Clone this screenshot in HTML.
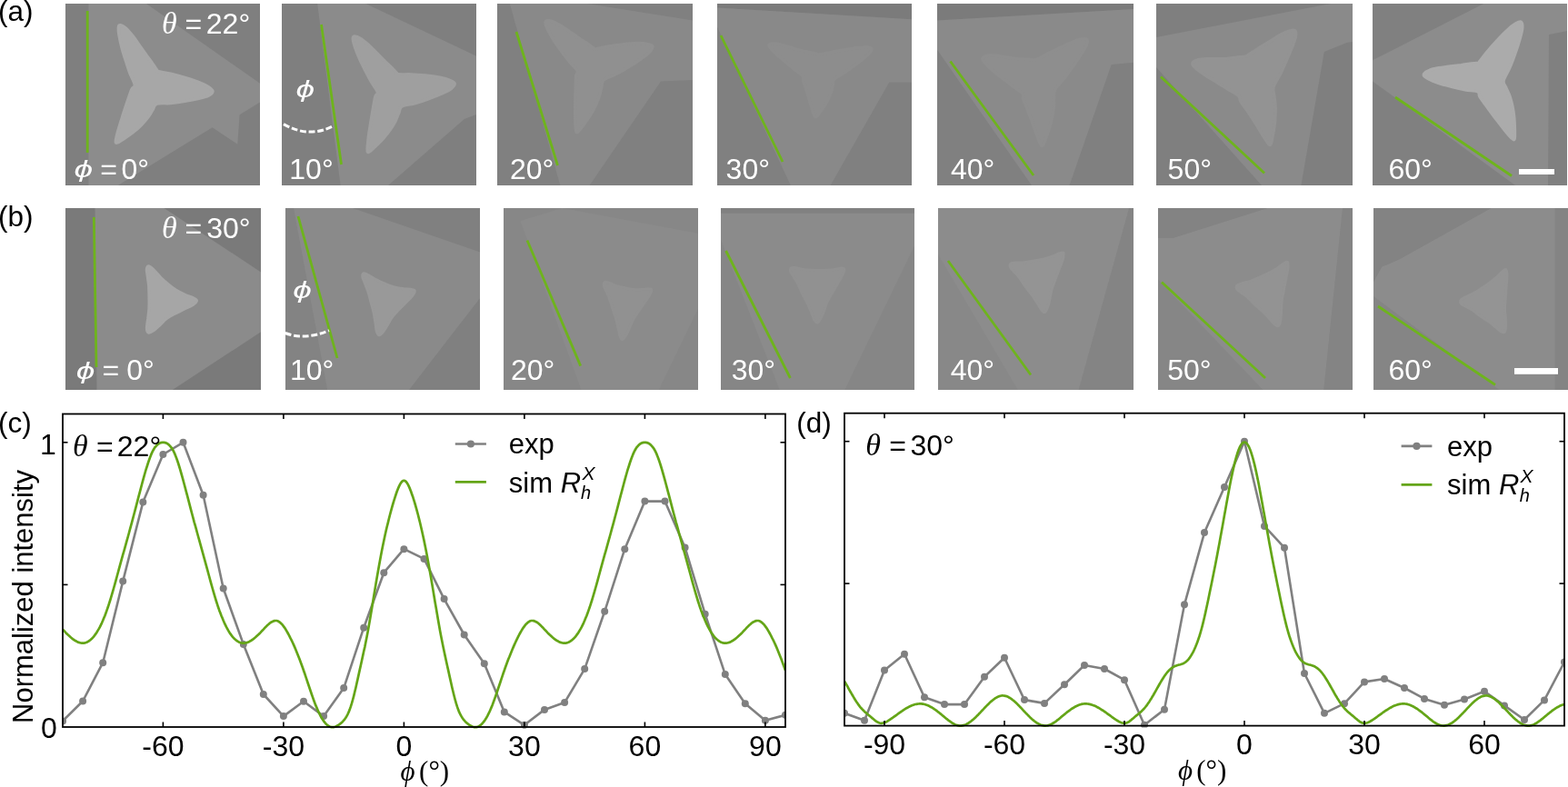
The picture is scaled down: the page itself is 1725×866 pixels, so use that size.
<!DOCTYPE html><html><head><meta charset="utf-8"><title>Figure</title><style>html,body{margin:0;padding:0;background:#fff;}body{width:1725px;height:866px;overflow:hidden;}svg{display:block;}</style></head><body>
<svg width="1725" height="866" viewBox="0 0 1725 866">
<rect width="1725" height="866" fill="#fff"/>
<clipPath id="pa1"><rect x="72" y="4" width="214" height="200"/></clipPath>
<g clip-path="url(#pa1)">
<rect x="72" y="4" width="214" height="200" fill="#7f7f7f"/>
<polygon points="97.4,4.0 160.9,4.0 286.0,91.7 286.0,112.5 263.6,126.3 261.3,158.7 233.6,140.2 129.7,204.0 97.4,204.0" fill="#8c8c8c"/>
<path d="M132.5,27.8 C133.9,28.0 136.4,29.4 138.7,31.4 C140.9,33.4 143.4,36.4 146.0,39.7 C148.6,43.0 151.7,47.6 154.3,51.2 C156.9,54.9 159.4,58.5 161.6,61.6 C163.9,64.7 166.1,67.5 167.8,69.9 C169.5,72.3 170.9,74.6 172.0,76.1 C173.1,77.5 171.9,77.8 174.5,78.6 C177.1,79.4 182.9,80.1 187.7,81.2 C192.5,82.3 198.1,83.8 203.3,85.4 C208.5,87.0 214.6,88.9 218.9,90.6 C223.2,92.3 226.8,94.1 229.3,95.8 C231.8,97.5 234.0,99.0 234.0,100.5 C234.0,102.0 231.8,103.8 229.3,105.1 C226.8,106.4 223.2,107.2 218.9,108.3 C214.6,109.3 208.5,110.5 203.3,111.4 C198.1,112.3 192.8,113.0 187.7,113.5 C182.6,114.0 175.8,113.0 172.5,114.2 C169.2,115.4 169.6,118.2 168.0,120.7 C166.4,123.2 164.9,126.2 162.8,129.0 C160.7,131.8 158.3,134.6 155.5,137.4 C152.7,140.2 149.5,143.1 146.2,145.7 C142.9,148.3 138.8,151.0 135.8,152.9 C132.9,154.8 129.9,156.9 128.5,157.1 C127.1,157.3 127.2,156.6 127.5,154.0 C127.9,151.4 129.2,146.3 130.6,141.5 C132.0,136.7 134.1,130.3 135.8,124.9 C137.5,119.5 139.5,113.8 141.0,109.3 C142.5,104.8 143.9,100.5 145.1,97.9 C146.3,95.3 148.7,96.4 148.3,93.5 C147.9,90.6 144.5,84.6 142.9,80.3 C141.3,76.0 140.1,72.1 138.7,67.8 C137.3,63.5 135.7,58.8 134.5,54.3 C133.3,49.8 132.1,44.8 131.4,40.8 C130.7,36.8 130.2,32.6 130.4,30.4 C130.6,28.2 131.1,27.6 132.5,27.8 Z" fill="#a7a7a7" stroke="#a7a7a7" stroke-width="3.5" stroke-linejoin="round"/>
</g>
<line x1="96.2" y1="12" x2="96.2" y2="168" stroke="#6eb41c" stroke-width="2.8"/>
<text font-size="32" fill="#fff" font-family="'Liberation Sans', Arial, sans-serif"><tspan x="177.9" y="36.8" font-family="'Liberation Serif', 'Times New Roman', serif" font-style="italic" font-size="34">θ</tspan><tspan x="203.5" y="36.8">=</tspan><tspan x="226.8" y="36.8">22°</tspan></text>
<text transform="translate(81.6,195.3) scale(1.4,1)" font-family="'Liberation Sans', Arial, sans-serif" font-style="italic" font-size="26.5" fill="#fff">ϕ</text><text font-size="32" fill="#fff" font-family="'Liberation Sans', Arial, sans-serif"><tspan x="110.2" y="196.5">=</tspan><tspan x="133.5" y="196.5">0°</tspan></text>
<clipPath id="pa2"><rect x="310" y="4" width="214" height="200"/></clipPath>
<g clip-path="url(#pa2)">
<rect x="310" y="4" width="214" height="200" fill="#7f7f7f"/>
<polygon points="349.2,4.0 402.3,4.0 524.0,61.7 524.0,126.0 510.8,131.0 427.0,204.0 374.6,204.0" fill="#8b8b8b"/>
<path d="M390.0,40.0 C391.4,39.9 394.1,40.8 396.6,42.4 C399.1,43.9 402.0,46.4 405.0,49.1 C408.0,51.9 411.8,55.7 414.8,58.8 C417.9,61.9 420.9,65.0 423.5,67.6 C426.2,70.2 428.8,72.5 430.9,74.6 C432.9,76.6 434.6,78.6 435.9,79.9 C437.2,81.1 436.0,81.5 438.7,81.8 C441.4,82.2 447.2,81.7 452.0,81.9 C456.9,82.1 462.6,82.5 467.9,83.1 C473.2,83.6 479.4,84.4 483.9,85.2 C488.4,86.1 492.2,87.2 494.9,88.4 C497.6,89.5 500.0,90.6 500.2,92.1 C500.4,93.6 498.6,95.7 496.3,97.5 C494.0,99.2 490.7,100.7 486.6,102.6 C482.5,104.4 476.8,106.7 471.8,108.5 C466.9,110.4 461.8,112.1 456.9,113.5 C451.9,114.9 445.2,115.3 442.1,117.1 C439.1,118.8 439.9,121.5 438.7,124.3 C437.5,127.0 436.5,130.2 434.9,133.4 C433.3,136.5 431.3,139.7 429.0,143.0 C426.7,146.2 424.0,149.7 421.2,152.8 C418.4,156.0 414.7,159.4 412.1,161.8 C409.5,164.2 406.9,166.9 405.6,167.3 C404.3,167.7 404.2,167.1 404.2,164.5 C404.1,161.8 404.7,156.6 405.3,151.6 C405.9,146.6 407.0,140.0 407.9,134.4 C408.8,128.8 409.8,122.9 410.6,118.2 C411.4,113.5 412.1,109.0 412.9,106.2 C413.7,103.4 416.2,104.1 415.4,101.3 C414.6,98.5 410.3,93.3 408.1,89.4 C405.9,85.5 404.1,82.0 402.1,78.0 C400.1,74.0 397.8,69.7 396.0,65.6 C394.1,61.4 392.2,56.7 390.9,52.9 C389.6,49.2 388.5,45.1 388.3,42.9 C388.2,40.8 388.6,40.1 390.0,40.0 Z" fill="#9f9f9f" stroke="#9f9f9f" stroke-width="3.5" stroke-linejoin="round"/>
</g>
<line x1="353.5" y1="27" x2="375.5" y2="181" stroke="#6eb41c" stroke-width="2.8"/>
<text x="318.3" y="196.8" font-family="'Liberation Sans', Arial, sans-serif" font-size="32" fill="#fff">10°</text>
<clipPath id="pa3"><rect x="547" y="4" width="215" height="200"/></clipPath>
<g clip-path="url(#pa3)">
<rect x="547" y="4" width="215" height="200" fill="#808080"/>
<polygon points="646.0,4.0 762.0,4.0 762.0,22.5" fill="#808080"/>
<polygon points="560.9,4.0 646.0,4.0 762.0,22.5 762.0,88.0 727.0,89.5 648.6,204.0 616.3,204.0" fill="#898989"/>
<path d="M601.4,23.0 C602.7,22.6 605.6,23.0 608.3,23.9 C611.0,24.9 614.1,26.7 617.5,28.8 C620.9,30.9 625.2,33.9 628.7,36.3 C632.2,38.7 635.5,41.1 638.6,43.1 C641.6,45.1 644.5,46.9 646.8,48.4 C649.1,50.0 651.1,51.7 652.5,52.6 C654.0,53.5 652.9,54.2 655.6,53.9 C658.3,53.7 663.9,52.0 668.8,51.1 C673.6,50.3 679.3,49.5 684.6,48.9 C689.9,48.3 696.2,47.7 700.8,47.6 C705.3,47.5 709.2,47.8 712.0,48.4 C714.9,48.9 717.3,49.5 717.8,50.9 C718.3,52.3 716.7,54.8 714.7,57.1 C712.8,59.3 709.7,61.5 705.9,64.2 C702.2,66.9 696.8,70.4 692.2,73.2 C687.6,76.1 682.9,78.9 678.2,81.3 C673.5,83.8 666.9,85.6 664.1,88.0 C661.4,90.4 662.6,92.9 661.8,95.9 C661.0,98.8 660.5,102.2 659.4,105.7 C658.2,109.1 656.7,112.7 655.0,116.4 C653.2,120.1 651.0,124.1 648.7,127.8 C646.3,131.6 643.2,135.7 641.0,138.7 C638.8,141.6 636.6,144.8 635.4,145.5 C634.2,146.2 634.0,145.6 633.6,143.0 C633.1,140.4 632.9,135.2 632.8,130.1 C632.7,125.0 632.8,118.2 632.8,112.5 C632.9,106.8 633.0,100.7 633.2,95.9 C633.3,91.0 633.3,86.5 633.7,83.6 C634.1,80.6 636.6,80.8 635.4,78.2 C634.2,75.6 629.2,71.4 626.5,68.0 C623.7,64.6 621.5,61.5 618.9,58.0 C616.3,54.5 613.5,50.7 611.0,47.0 C608.6,43.3 606.0,39.0 604.2,35.6 C602.4,32.1 600.7,28.4 600.2,26.3 C599.7,24.2 600.1,23.4 601.4,23.0 Z" fill="#909090" stroke="#909090" stroke-width="3.5" stroke-linejoin="round"/>
</g>
<line x1="568" y1="35" x2="613.5" y2="182" stroke="#6eb41c" stroke-width="2.8"/>
<text x="561.0" y="196.8" font-family="'Liberation Sans', Arial, sans-serif" font-size="32" fill="#fff">20°</text>
<clipPath id="pa4"><rect x="789" y="4" width="214" height="200"/></clipPath>
<g clip-path="url(#pa4)">
<rect x="789" y="4" width="214" height="200" fill="#808080"/>
<polygon points="789.0,4.0 1003.0,4.0 1003.0,21.3 789.0,8.6" fill="#7b7b7b"/>
<polygon points="789.0,8.6 1003.0,21.3 1003.0,90.6 978.3,90.6 913.6,204.0 869.8,204.0 789.0,29.4" fill="#898989"/>
<path d="M847.0,48.5 C848.1,48.0 850.7,47.9 853.1,48.1 C855.6,48.3 858.7,49.1 861.9,49.9 C865.2,50.7 869.4,52.1 872.9,53.1 C876.3,54.1 879.7,55.1 882.9,55.9 C886.0,56.6 889.1,57.2 891.8,57.8 C894.4,58.4 896.9,59.1 898.6,59.4 C900.4,59.8 899.6,60.3 902.4,59.9 C905.2,59.5 910.9,58.1 915.4,57.2 C919.9,56.3 924.9,55.5 929.6,54.7 C934.2,53.9 939.5,53.0 943.5,52.5 C947.5,52.1 950.8,51.9 953.4,52.0 C955.9,52.2 958.1,52.3 958.8,53.2 C959.4,54.2 958.5,56.0 957.2,57.8 C955.9,59.5 953.7,61.3 950.9,63.6 C948.2,65.9 944.3,68.9 940.8,71.6 C937.3,74.2 933.8,76.8 930.0,79.4 C926.2,82.0 920.3,84.8 918.0,87.1 C915.7,89.4 916.8,90.9 916.3,93.1 C915.7,95.3 915.6,97.6 914.8,100.0 C914.1,102.5 913.1,105.0 911.9,107.6 C910.7,110.2 909.2,113.1 907.6,115.7 C905.9,118.4 903.7,121.4 902.1,123.6 C900.5,125.7 899.0,127.9 898.0,128.5 C897.0,129.1 896.7,128.7 895.9,127.2 C895.1,125.6 894.0,122.3 893.0,119.1 C892.0,115.9 890.9,111.6 889.8,107.9 C888.7,104.2 887.5,100.3 886.4,97.1 C885.4,93.8 884.0,90.5 883.5,88.3 C883.0,86.2 885.1,86.0 883.5,84.0 C881.9,82.0 876.7,78.7 873.9,76.3 C871.0,74.0 868.8,72.0 866.2,69.9 C863.6,67.7 860.7,65.5 858.2,63.3 C855.6,61.1 852.9,58.6 850.9,56.5 C848.9,54.5 847.0,52.2 846.3,50.9 C845.7,49.5 845.9,49.0 847.0,48.5 Z" fill="#8d8d8d" stroke="#8d8d8d" stroke-width="3.5" stroke-linejoin="round"/>
</g>
<line x1="793" y1="39" x2="861" y2="178" stroke="#6eb41c" stroke-width="2.8"/>
<text x="798.6" y="196.8" font-family="'Liberation Sans', Arial, sans-serif" font-size="32" fill="#fff">30°</text>
<clipPath id="pa5"><rect x="1031" y="4" width="216" height="200"/></clipPath>
<g clip-path="url(#pa5)">
<rect x="1031" y="4" width="216" height="200" fill="#808080"/>
<polygon points="1031.0,4.0 1247.0,4.0 1247.0,10.0 1031.0,22.5" fill="#7b7b7b"/>
<polygon points="1031.0,22.5 1247.0,10.0 1247.0,68.7 1222.7,71.0 1176.5,204.0 1135.0,204.0 1031.0,54.8" fill="#8a8a8a"/>
<path d="M1081.8,63.0 C1082.9,62.1 1085.4,61.3 1088.0,61.0 C1090.5,60.8 1093.7,61.1 1097.2,61.4 C1100.7,61.8 1105.1,62.7 1108.8,63.2 C1112.5,63.7 1116.1,64.3 1119.4,64.7 C1122.7,65.0 1126.0,65.0 1128.7,65.2 C1131.5,65.4 1134.1,65.8 1136.0,65.9 C1137.8,66.0 1137.1,66.8 1139.9,65.7 C1142.6,64.5 1148.2,61.2 1152.6,59.0 C1157.0,56.7 1161.9,54.4 1166.5,52.3 C1171.1,50.1 1176.3,47.6 1180.3,46.1 C1184.2,44.6 1187.6,43.5 1190.2,43.1 C1192.8,42.7 1195.0,42.3 1195.9,43.5 C1196.7,44.6 1196.1,47.3 1195.1,50.0 C1194.0,52.6 1192.1,55.6 1189.7,59.4 C1187.3,63.2 1183.9,68.2 1180.8,72.6 C1177.7,77.0 1174.6,81.4 1171.2,85.8 C1167.8,90.2 1162.3,95.4 1160.4,99.0 C1158.4,102.6 1159.8,104.5 1159.6,107.6 C1159.5,110.6 1159.7,113.9 1159.4,117.4 C1159.0,120.8 1158.5,124.5 1157.7,128.3 C1156.9,132.2 1155.9,136.4 1154.7,140.4 C1153.5,144.4 1151.8,149.0 1150.5,152.3 C1149.3,155.6 1148.1,159.0 1147.2,160.0 C1146.3,161.1 1145.9,160.6 1144.8,158.7 C1143.7,156.7 1142.1,152.5 1140.5,148.3 C1138.9,144.2 1137.1,138.6 1135.3,133.9 C1133.6,129.1 1131.7,124.1 1130.1,119.9 C1128.4,115.7 1126.5,111.6 1125.6,108.7 C1124.7,105.9 1126.8,105.2 1124.8,102.8 C1122.9,100.5 1117.1,97.1 1113.8,94.6 C1110.5,92.1 1107.9,90.0 1104.9,87.6 C1101.9,85.3 1098.6,83.0 1095.6,80.6 C1092.7,78.1 1089.5,75.4 1087.1,73.0 C1084.8,70.7 1082.4,68.0 1081.5,66.4 C1080.6,64.7 1080.7,63.9 1081.8,63.0 Z" fill="#8e8e8e" stroke="#8e8e8e" stroke-width="3.5" stroke-linejoin="round"/>
</g>
<line x1="1045.5" y1="67.5" x2="1137" y2="193" stroke="#6eb41c" stroke-width="2.8"/>
<text x="1045.9" y="196.8" font-family="'Liberation Sans', Arial, sans-serif" font-size="32" fill="#fff">40°</text>
<clipPath id="pa6"><rect x="1272" y="4" width="216" height="200"/></clipPath>
<g clip-path="url(#pa6)">
<rect x="1272" y="4" width="216" height="200" fill="#7f7f7f"/>
<polygon points="1272.0,41.0 1463.7,4.0 1488.0,4.0 1488.0,46.0 1482.2,46.7 1456.8,57.1 1431.4,204.0 1388.0,204.0 1272.0,74.0" fill="#8a8a8a"/>
<path d="M1312.4,68.7 C1313.3,67.6 1315.6,66.4 1318.1,65.8 C1320.5,65.2 1323.7,65.0 1327.2,64.8 C1330.7,64.7 1335.2,64.9 1339.0,64.8 C1342.7,64.7 1346.4,64.7 1349.8,64.5 C1353.2,64.2 1356.6,63.6 1359.5,63.3 C1362.4,62.9 1365.3,62.8 1367.3,62.5 C1369.3,62.2 1368.8,63.1 1371.6,61.6 C1374.4,60.0 1379.8,56.1 1384.1,53.4 C1388.3,50.7 1392.8,48.0 1397.1,45.4 C1401.4,42.8 1406.0,39.8 1409.7,37.9 C1413.3,36.0 1416.5,34.7 1419.0,34.0 C1421.5,33.3 1423.7,32.7 1424.7,33.8 C1425.8,34.8 1425.8,37.6 1425.3,40.4 C1424.8,43.2 1423.5,46.4 1422.0,50.5 C1420.4,54.5 1418.1,60.0 1416.0,64.9 C1413.9,69.8 1411.8,74.7 1409.4,79.8 C1406.9,84.9 1402.4,91.4 1401.1,95.6 C1399.9,99.8 1401.4,101.6 1401.7,104.8 C1402.0,108.0 1402.7,111.3 1402.9,114.9 C1403.2,118.4 1403.2,122.2 1403.0,126.1 C1402.9,130.1 1402.6,134.4 1402.0,138.5 C1401.5,142.7 1400.5,147.5 1399.9,150.8 C1399.2,154.2 1398.7,157.7 1397.9,158.8 C1397.1,160.0 1396.8,159.6 1395.3,157.9 C1393.8,156.1 1391.3,152.2 1388.9,148.4 C1386.5,144.6 1383.6,139.5 1380.8,135.1 C1378.1,130.7 1375.1,126.1 1372.4,122.2 C1369.8,118.3 1366.6,114.3 1364.9,111.5 C1363.3,108.7 1365.1,107.8 1362.5,105.4 C1359.9,103.0 1353.3,99.7 1349.4,97.3 C1345.6,94.9 1342.8,93.0 1339.4,90.9 C1336.0,88.8 1332.4,86.8 1329.0,84.7 C1325.7,82.6 1322.1,80.2 1319.4,78.1 C1316.7,76.1 1313.9,73.7 1312.7,72.1 C1311.6,70.6 1311.5,69.8 1312.4,68.7 Z" fill="#939393" stroke="#939393" stroke-width="3.5" stroke-linejoin="round"/>
</g>
<line x1="1277" y1="84.5" x2="1391" y2="190.5" stroke="#6eb41c" stroke-width="2.8"/>
<text x="1284.6" y="196.8" font-family="'Liberation Sans', Arial, sans-serif" font-size="32" fill="#fff">50°</text>
<clipPath id="pa7"><rect x="1510" y="4" width="214" height="200"/></clipPath>
<g clip-path="url(#pa7)">
<rect x="1510" y="4" width="214" height="200" fill="#808080"/>
<polygon points="1510.0,66.3 1632.3,4.0 1724.0,4.0 1724.0,34.0 1704.0,38.0 1703.0,204.0 1667.0,204.0 1510.0,89.4" fill="#8c8c8c"/>
<path d="M1566.7,81.2 C1567.5,80.0 1569.9,78.3 1572.6,77.3 C1575.2,76.2 1578.8,75.5 1582.6,74.8 C1586.5,74.1 1591.6,73.6 1595.7,73.0 C1599.9,72.5 1603.9,72.1 1607.4,71.7 C1611.0,71.2 1614.2,70.6 1617.0,70.2 C1619.7,69.8 1622.2,69.8 1623.9,69.5 C1625.6,69.2 1625.1,70.5 1627.1,68.5 C1629.0,66.5 1632.4,61.4 1635.6,57.5 C1638.8,53.6 1642.8,49.1 1646.5,45.1 C1650.3,41.0 1654.8,36.3 1658.2,33.2 C1661.7,30.0 1664.9,27.6 1667.4,26.1 C1669.9,24.6 1672.2,23.4 1673.4,24.2 C1674.6,25.0 1674.9,28.0 1674.7,31.0 C1674.5,34.1 1673.4,37.8 1672.1,42.4 C1670.8,47.1 1668.8,53.4 1666.9,58.7 C1665.0,64.0 1663.1,69.4 1660.9,74.4 C1658.8,79.5 1654.7,85.3 1654.0,89.0 C1653.4,92.7 1655.8,93.9 1656.9,96.7 C1658.1,99.5 1659.7,102.5 1660.9,105.9 C1662.0,109.3 1663.1,113.1 1663.9,117.2 C1664.7,121.2 1665.4,125.8 1665.8,130.2 C1666.2,134.7 1666.3,140.0 1666.4,143.8 C1666.4,147.5 1666.6,151.4 1666.1,152.8 C1665.6,154.2 1665.0,153.8 1663.2,152.1 C1661.3,150.4 1658.0,146.5 1654.9,142.6 C1651.8,138.8 1647.8,133.5 1644.4,129.1 C1641.1,124.6 1637.5,119.8 1634.8,116.0 C1632.0,112.2 1629.3,108.7 1627.8,106.2 C1626.4,103.7 1628.4,102.1 1625.9,100.9 C1623.5,99.7 1617.1,99.7 1612.9,99.0 C1608.8,98.3 1605.2,97.3 1601.1,96.4 C1597.0,95.4 1592.6,94.5 1588.5,93.2 C1584.3,92.0 1579.8,90.5 1576.4,89.1 C1572.9,87.6 1569.3,85.8 1567.7,84.5 C1566.1,83.2 1565.9,82.4 1566.7,81.2 Z" fill="#ababab" stroke="#ababab" stroke-width="3.5" stroke-linejoin="round"/>
</g>
<line x1="1535" y1="107" x2="1663" y2="193.5" stroke="#6eb41c" stroke-width="2.8"/>
<text x="1527.5" y="196.8" font-family="'Liberation Sans', Arial, sans-serif" font-size="32" fill="#fff">60°</text>
<rect x="1671" y="186" width="39" height="6" fill="#fff"/>
<clipPath id="pb1"><rect x="72" y="229" width="215" height="200"/></clipPath>
<g clip-path="url(#pb1)">
<rect x="72" y="229" width="215" height="200" fill="#7a7a7a"/>
<polygon points="104.5,229.0 180.5,229.0 287.0,299.4 287.0,365.3 189.8,429.0 106.5,429.0" fill="#8b8b8b"/>
<path d="M163.7,292.7 C164.9,292.7 166.2,294.0 168.4,296.1 C170.6,298.2 174.1,302.5 176.8,305.2 C179.6,308.0 182.3,310.3 185.1,312.6 C187.9,314.9 190.4,317.0 193.6,319.0 C196.8,320.9 201.2,323.1 204.3,324.5 C207.4,325.9 210.3,326.5 212.3,327.5 C214.3,328.6 216.5,329.5 216.5,330.8 C216.5,332.1 214.5,333.9 212.3,335.4 C210.0,336.9 206.7,338.3 203.2,340.0 C199.7,341.8 194.5,344.1 191.0,346.0 C187.6,347.8 185.2,349.3 182.7,351.1 C180.3,353.0 178.6,355.3 176.4,357.3 C174.1,359.4 171.6,362.0 169.4,363.4 C167.1,364.9 164.4,366.5 163.1,366.1 C161.8,365.8 161.5,363.9 161.4,361.3 C161.3,358.8 162.1,354.6 162.6,350.9 C163.0,347.2 163.7,343.2 163.9,339.0 C164.1,334.7 164.0,329.6 163.9,325.4 C163.8,321.3 163.8,317.6 163.5,313.9 C163.2,310.2 162.4,306.4 162.1,303.4 C161.7,300.4 161.1,297.6 161.3,295.9 C161.6,294.1 162.5,292.7 163.7,292.7 Z" fill="#a6a6a6" stroke="#a6a6a6" stroke-width="3.0" stroke-linejoin="round"/>
</g>
<line x1="103.3" y1="239" x2="106" y2="404" stroke="#6eb41c" stroke-width="2.8"/>
<text font-size="32" fill="#fff" font-family="'Liberation Sans', Arial, sans-serif"><tspan x="177.9" y="261.7" font-family="'Liberation Serif', 'Times New Roman', serif" font-style="italic" font-size="34">θ</tspan><tspan x="203.5" y="261.7">=</tspan><tspan x="227.2" y="261.7">30°</tspan></text>
<text transform="translate(83.7,416.8) scale(1.4,1)" font-family="'Liberation Sans', Arial, sans-serif" font-style="italic" font-size="26.5" fill="#fff">ϕ</text><text font-size="32" fill="#fff" font-family="'Liberation Sans', Arial, sans-serif"><tspan x="112.4" y="418.1">=</tspan><tspan x="139.2" y="418.1">0°</tspan></text>
<clipPath id="pb2"><rect x="314" y="229" width="214" height="200"/></clipPath>
<g clip-path="url(#pb2)">
<rect x="314" y="229" width="214" height="200" fill="#838383"/>
<polygon points="387.9,229.0 528.0,229.0 528.0,277.5" fill="#808080"/>
<polygon points="323.0,229.0 387.9,229.0 528.0,277.5 528.0,328.3 450.2,429.0 360.2,429.0" fill="#8a8a8a"/>
<polygon points="528.0,328.3 528.0,429.0 450.2,429.0" fill="#808080"/>
<path d="M400.1,300.8 C401.1,300.5 402.6,301.2 405.0,302.5 C407.4,303.7 411.5,306.5 414.7,308.1 C417.8,309.8 420.8,311.0 423.9,312.3 C427.0,313.6 429.8,314.7 433.2,315.7 C436.6,316.6 441.0,317.4 444.1,317.8 C447.2,318.2 449.8,317.9 451.8,318.3 C453.8,318.7 456.0,318.9 456.3,320.1 C456.6,321.3 455.2,323.5 453.6,325.6 C452.1,327.7 449.5,329.9 446.8,332.6 C444.1,335.4 440.1,339.2 437.5,342.0 C434.9,344.8 432.9,346.9 431.1,349.4 C429.4,351.9 428.3,354.4 426.8,356.9 C425.3,359.4 423.7,362.5 422.0,364.5 C420.4,366.5 418.4,368.7 417.1,368.8 C415.8,368.8 415.1,367.1 414.4,364.9 C413.7,362.6 413.4,358.6 412.9,355.1 C412.3,351.6 411.9,347.8 411.0,343.8 C410.1,339.7 408.7,334.9 407.6,331.0 C406.6,327.1 405.8,323.6 404.7,320.3 C403.6,317.0 402.1,313.7 401.1,311.0 C400.1,308.4 398.9,306.1 398.7,304.4 C398.6,302.7 399.1,301.1 400.1,300.8 Z" fill="#999999" stroke="#999999" stroke-width="3.0" stroke-linejoin="round"/>
</g>
<line x1="328" y1="238" x2="371" y2="394" stroke="#6eb41c" stroke-width="2.8"/>
<text x="319.0" y="418.3" font-family="'Liberation Sans', Arial, sans-serif" font-size="32" fill="#fff">10°</text>
<clipPath id="pb3"><rect x="554" y="229" width="214" height="200"/></clipPath>
<g clip-path="url(#pb3)">
<rect x="554" y="229" width="214" height="200" fill="#878787"/>
<polygon points="572.5,242.9 618.6,229.0 768.0,256.7 768.0,339.8 724.8,429.0 639.4,429.0" fill="#8b8b8b"/>
<path d="M665.4,310.5 C666.3,310.0 667.6,310.4 669.8,311.1 C672.0,311.8 675.8,313.7 678.7,314.7 C681.6,315.6 684.4,316.2 687.3,316.8 C690.2,317.4 692.9,318.1 696.0,318.4 C699.1,318.7 703.1,318.7 705.9,318.6 C708.7,318.6 710.9,317.8 712.7,317.8 C714.5,317.9 716.3,317.6 716.7,318.8 C717.0,319.9 716.0,322.3 714.8,324.6 C713.5,327.0 711.5,329.6 709.3,332.8 C707.1,336.0 703.7,340.6 701.6,343.9 C699.4,347.2 697.7,349.6 696.2,352.4 C694.8,355.1 694.0,357.7 692.8,360.4 C691.6,363.1 690.3,366.4 688.9,368.6 C687.6,370.8 685.9,373.3 684.8,373.6 C683.7,373.9 683.0,372.4 682.2,370.4 C681.4,368.3 680.9,364.6 680.1,361.3 C679.3,358.0 678.7,354.5 677.6,350.7 C676.5,346.9 674.7,342.3 673.6,338.6 C672.4,334.9 671.5,331.6 670.4,328.5 C669.3,325.5 667.8,322.6 666.8,320.2 C665.8,317.8 664.6,315.9 664.4,314.2 C664.1,312.6 664.5,311.0 665.4,310.5 Z" fill="#919191" stroke="#919191" stroke-width="3.0" stroke-linejoin="round"/>
</g>
<line x1="580" y1="264.5" x2="638.7" y2="402.6" stroke="#6eb41c" stroke-width="2.8"/>
<text x="561.9" y="418.3" font-family="'Liberation Sans', Arial, sans-serif" font-size="32" fill="#fff">20°</text>
<clipPath id="pb4"><rect x="793" y="229" width="213" height="200"/></clipPath>
<g clip-path="url(#pb4)">
<rect x="793" y="229" width="213" height="200" fill="#868686"/>
<polygon points="793.0,229.0 1006.0,229.0 1006.0,234.8 793.0,234.8" fill="#818181"/>
<polygon points="793.0,234.8 1006.0,234.8 1006.0,270.6 929.3,429.0 857.7,429.0 793.0,263.7" fill="#8b8b8b"/>
<path d="M870.4,294.8 C871.3,294.1 872.8,294.4 875.3,294.7 C877.8,295.0 882.1,296.2 885.4,296.7 C888.8,297.1 892.0,297.1 895.4,297.3 C898.8,297.4 902.2,297.6 905.7,297.5 C909.3,297.5 913.7,297.2 916.8,296.8 C919.9,296.4 922.1,295.4 924.1,295.2 C926.1,295.0 928.1,294.6 928.6,295.7 C929.1,296.7 928.3,299.2 927.3,301.7 C926.2,304.2 924.3,307.1 922.3,310.7 C920.3,314.2 917.2,319.5 915.1,323.2 C913.0,326.9 911.3,329.7 909.9,332.6 C908.5,335.6 907.9,338.3 906.8,341.1 C905.7,343.9 904.6,347.3 903.4,349.6 C902.1,351.9 900.5,354.5 899.3,355.0 C898.1,355.4 897.1,354.1 896.0,352.3 C894.9,350.4 893.9,346.9 892.6,343.8 C891.3,340.8 890.0,337.5 888.2,333.9 C886.5,330.2 883.8,325.6 882.0,321.9 C880.3,318.3 879.1,314.9 877.6,312.0 C876.0,309.0 874.2,306.4 872.9,304.2 C871.5,302.0 870.1,300.2 869.6,298.7 C869.2,297.1 869.5,295.5 870.4,294.8 Z" fill="#919191" stroke="#919191" stroke-width="3.0" stroke-linejoin="round"/>
</g>
<line x1="798.6" y1="276" x2="869.4" y2="416" stroke="#6eb41c" stroke-width="2.8"/>
<text x="804.7" y="418.3" font-family="'Liberation Sans', Arial, sans-serif" font-size="32" fill="#fff">30°</text>
<clipPath id="pb5"><rect x="1032" y="229" width="215" height="200"/></clipPath>
<g clip-path="url(#pb5)">
<rect x="1032" y="229" width="215" height="200" fill="#888888"/>
<polygon points="1032.0,229.0 1242.2,229.0 1186.7,429.0 1119.8,429.0 1032.0,279.8" fill="#8c8c8c"/>
<polygon points="1242.2,229.0 1247.0,229.0 1247.0,429.0 1186.7,429.0" fill="#848484"/>
<path d="M1111.7,290.2 C1112.5,289.3 1114.0,289.3 1116.6,289.0 C1119.1,288.8 1123.6,289.1 1127.0,288.7 C1130.4,288.4 1133.6,287.7 1137.0,287.1 C1140.4,286.6 1143.8,286.0 1147.3,285.1 C1150.9,284.3 1155.3,283.0 1158.3,281.9 C1161.3,280.9 1163.4,279.4 1165.3,278.8 C1167.2,278.2 1169.2,277.3 1169.9,278.2 C1170.6,279.2 1170.1,281.9 1169.5,284.6 C1168.8,287.3 1167.4,290.5 1165.9,294.5 C1164.4,298.5 1162.1,304.4 1160.6,308.5 C1159.2,312.6 1157.9,315.7 1156.9,318.9 C1156.0,322.2 1155.8,324.9 1155.1,328.0 C1154.5,331.0 1153.9,334.6 1153.0,337.1 C1152.1,339.7 1151.0,342.7 1149.8,343.4 C1148.7,344.1 1147.5,343.0 1146.1,341.4 C1144.7,339.8 1143.1,336.6 1141.4,333.8 C1139.6,331.1 1137.8,328.1 1135.5,324.9 C1133.2,321.7 1129.8,317.7 1127.5,314.5 C1125.2,311.3 1123.5,308.2 1121.5,305.6 C1119.5,303.0 1117.3,300.8 1115.6,298.9 C1113.9,297.0 1112.2,295.6 1111.5,294.2 C1110.9,292.7 1110.9,291.1 1111.7,290.2 Z" fill="#949494" stroke="#949494" stroke-width="3.0" stroke-linejoin="round"/>
</g>
<line x1="1043" y1="287" x2="1134" y2="412.5" stroke="#6eb41c" stroke-width="2.8"/>
<text x="1045.7" y="418.3" font-family="'Liberation Sans', Arial, sans-serif" font-size="32" fill="#fff">40°</text>
<clipPath id="pb6"><rect x="1274" y="229" width="214" height="200"/></clipPath>
<g clip-path="url(#pb6)">
<rect x="1274" y="229" width="214" height="200" fill="#868686"/>
<polygon points="1274.0,262.0 1290.0,262.0 1394.0,229.0 1477.1,229.0 1456.4,429.0 1389.4,429.0 1274.0,307.5" fill="#8c8c8c"/>
<polygon points="1274.0,229.0 1394.0,229.0 1290.0,262.0 1274.0,262.0" fill="#838383"/>
<polygon points="1477.1,229.0 1488.0,229.0 1488.0,429.0 1456.4,429.0" fill="#848484"/>
<path d="M1360.6,314.4 C1361.3,313.3 1362.8,312.9 1365.2,312.1 C1367.7,311.2 1372.2,310.4 1375.5,309.3 C1378.9,308.1 1381.9,306.7 1385.2,305.3 C1388.5,303.8 1391.8,302.5 1395.1,300.8 C1398.5,299.0 1402.7,296.7 1405.5,294.9 C1408.3,293.1 1410.1,291.1 1412.0,290.1 C1413.8,289.0 1415.5,287.6 1416.4,288.4 C1417.2,289.2 1417.2,292.0 1417.0,294.9 C1416.7,297.7 1415.8,301.3 1415.0,305.6 C1414.2,309.9 1412.8,316.4 1412.0,320.9 C1411.2,325.3 1410.4,328.8 1410.0,332.2 C1409.6,335.7 1409.8,338.5 1409.6,341.7 C1409.4,344.9 1409.4,348.6 1408.9,351.4 C1408.5,354.1 1407.8,357.4 1406.7,358.4 C1405.7,359.4 1404.4,358.6 1402.7,357.3 C1401.1,356.1 1399.0,353.2 1396.9,350.9 C1394.7,348.5 1392.5,346.0 1389.7,343.4 C1386.9,340.7 1382.9,337.5 1380.1,334.9 C1377.3,332.2 1375.1,329.6 1372.7,327.4 C1370.4,325.3 1367.8,323.7 1365.8,322.2 C1363.9,320.7 1361.9,319.7 1361.1,318.4 C1360.2,317.1 1359.9,315.5 1360.6,314.4 Z" fill="#939393" stroke="#939393" stroke-width="3.0" stroke-linejoin="round"/>
</g>
<line x1="1278" y1="310.5" x2="1392" y2="416" stroke="#6eb41c" stroke-width="2.8"/>
<text x="1284.2" y="418.3" font-family="'Liberation Sans', Arial, sans-serif" font-size="32" fill="#fff">50°</text>
<clipPath id="pb7"><rect x="1511" y="229" width="214" height="200"/></clipPath>
<g clip-path="url(#pb7)">
<rect x="1511" y="229" width="214" height="200" fill="#858585"/>
<polygon points="1511.0,310.0 1520.2,293.6 1540.0,285.0 1640.3,229.0 1710.7,229.0 1710.7,429.0 1649.5,429.0 1511.0,326.0" fill="#8c8c8c"/>
<polygon points="1511.0,229.0 1640.3,229.0 1540.0,285.0 1520.2,293.6 1511.0,310.0" fill="#838383"/>
<polygon points="1710.7,229.0 1725.0,229.0 1725.0,429.0 1710.7,429.0" fill="#848484"/>
<path d="M1606.8,330.6 C1607.3,329.5 1608.7,328.8 1610.9,327.6 C1613.2,326.4 1617.3,324.8 1620.4,323.2 C1623.4,321.6 1626.1,319.7 1629.1,317.8 C1632.0,315.9 1635.0,314.0 1638.0,311.8 C1641.0,309.6 1644.6,306.7 1647.1,304.5 C1649.5,302.4 1651.1,300.1 1652.7,298.8 C1654.3,297.4 1655.8,295.9 1656.7,296.5 C1657.6,297.1 1657.9,299.8 1658.0,302.6 C1658.1,305.4 1657.6,308.9 1657.3,313.2 C1657.0,317.5 1656.5,324.0 1656.2,328.4 C1655.8,332.8 1655.5,336.2 1655.5,339.6 C1655.5,343.0 1656.0,345.7 1656.2,348.8 C1656.4,351.9 1656.8,355.4 1656.6,358.2 C1656.5,360.9 1656.2,364.2 1655.3,365.3 C1654.5,366.4 1653.1,365.8 1651.4,364.9 C1649.8,364.0 1647.5,361.5 1645.2,359.7 C1642.8,357.8 1640.5,355.7 1637.5,353.6 C1634.6,351.5 1630.5,349.2 1627.5,347.1 C1624.5,345.0 1622.2,342.8 1619.7,341.1 C1617.3,339.5 1614.6,338.4 1612.6,337.2 C1610.6,336.1 1608.7,335.5 1607.7,334.4 C1606.7,333.3 1606.3,331.7 1606.8,330.6 Z" fill="#949494" stroke="#949494" stroke-width="3.0" stroke-linejoin="round"/>
</g>
<line x1="1516" y1="337" x2="1645" y2="423.5" stroke="#6eb41c" stroke-width="2.8"/>
<text x="1527.5" y="418.3" font-family="'Liberation Sans', Arial, sans-serif" font-size="32" fill="#fff">60°</text>
<rect x="1666" y="405" width="48" height="6.8" fill="#fff"/>
<path d="M312,136.6 Q340,152.8 367.4,138.2" fill="none" stroke="#fff" stroke-width="3" stroke-dasharray="6.9,2.8"/>
<text transform="translate(325.4,107.0) scale(1.4,1)" font-family="'Liberation Sans', Arial, sans-serif" font-style="italic" font-size="26.5" fill="#fff">ϕ</text>
<path d="M313.8,366.5 Q335,374.8 361.9,363.7" fill="none" stroke="#fff" stroke-width="3" stroke-dasharray="6.9,2.8"/>
<text transform="translate(322.3,328.3) scale(1.4,1)" font-family="'Liberation Sans', Arial, sans-serif" font-style="italic" font-size="26.5" fill="#fff">ϕ</text>
<text x="-2" y="22.5" font-family="'Liberation Sans', Arial, sans-serif" font-size="31.5">(a)</text>
<text x="-2" y="249.2" font-family="'Liberation Sans', Arial, sans-serif" font-size="31.5">(b)</text>
<text x="-2" y="476.4" font-family="'Liberation Sans', Arial, sans-serif" font-size="31.5">(c)</text>
<text x="876.3" y="476.4" font-family="'Liberation Sans', Arial, sans-serif" font-size="31.5">(d)</text>
<clipPath id="cc"><rect x="69" y="453.5" width="795" height="348.5"/></clipPath>
<g clip-path="url(#cc)">
<polyline points="69.0,793.4 91.1,771.5 113.2,729.2 135.2,639.6 157.3,552.6 179.4,500.0 201.5,486.8 223.6,544.7 245.7,647.5 267.8,708.9 289.8,764.0 311.9,788.1 334.0,771.8 356.1,788.1 378.2,757.1 400.2,690.7 422.3,630.2 444.4,604.2 466.5,614.9 488.6,659.1 510.7,698.5 532.8,730.2 554.8,783.4 576.9,797.8 599.0,780.9 621.1,773.1 643.2,736.1 665.2,672.8 687.3,604.2 709.4,551.6 731.5,551.6 753.6,602.4 775.7,675.7 797.8,742.1 819.8,774.3 841.9,792.8 864.0,786.8" fill="none" stroke="#808080" stroke-width="2.6" stroke-linejoin="round"/>
<circle cx="69.0" cy="793.4" r="4" fill="#808080"/>
<circle cx="91.1" cy="771.5" r="4" fill="#808080"/>
<circle cx="113.2" cy="729.2" r="4" fill="#808080"/>
<circle cx="135.2" cy="639.6" r="4" fill="#808080"/>
<circle cx="157.3" cy="552.6" r="4" fill="#808080"/>
<circle cx="179.4" cy="500.0" r="4" fill="#808080"/>
<circle cx="201.5" cy="486.8" r="4" fill="#808080"/>
<circle cx="223.6" cy="544.7" r="4" fill="#808080"/>
<circle cx="245.7" cy="647.5" r="4" fill="#808080"/>
<circle cx="267.8" cy="708.9" r="4" fill="#808080"/>
<circle cx="289.8" cy="764.0" r="4" fill="#808080"/>
<circle cx="311.9" cy="788.1" r="4" fill="#808080"/>
<circle cx="334.0" cy="771.8" r="4" fill="#808080"/>
<circle cx="356.1" cy="788.1" r="4" fill="#808080"/>
<circle cx="378.2" cy="757.1" r="4" fill="#808080"/>
<circle cx="400.2" cy="690.7" r="4" fill="#808080"/>
<circle cx="422.3" cy="630.2" r="4" fill="#808080"/>
<circle cx="444.4" cy="604.2" r="4" fill="#808080"/>
<circle cx="466.5" cy="614.9" r="4" fill="#808080"/>
<circle cx="488.6" cy="659.1" r="4" fill="#808080"/>
<circle cx="510.7" cy="698.5" r="4" fill="#808080"/>
<circle cx="532.8" cy="730.2" r="4" fill="#808080"/>
<circle cx="554.8" cy="783.4" r="4" fill="#808080"/>
<circle cx="576.9" cy="797.8" r="4" fill="#808080"/>
<circle cx="599.0" cy="780.9" r="4" fill="#808080"/>
<circle cx="621.1" cy="773.1" r="4" fill="#808080"/>
<circle cx="643.2" cy="736.1" r="4" fill="#808080"/>
<circle cx="665.2" cy="672.8" r="4" fill="#808080"/>
<circle cx="687.3" cy="604.2" r="4" fill="#808080"/>
<circle cx="709.4" cy="551.6" r="4" fill="#808080"/>
<circle cx="731.5" cy="551.6" r="4" fill="#808080"/>
<circle cx="753.6" cy="602.4" r="4" fill="#808080"/>
<circle cx="775.7" cy="675.7" r="4" fill="#808080"/>
<circle cx="797.8" cy="742.1" r="4" fill="#808080"/>
<circle cx="819.8" cy="774.3" r="4" fill="#808080"/>
<circle cx="841.9" cy="792.8" r="4" fill="#808080"/>
<circle cx="864.0" cy="786.8" r="4" fill="#808080"/>
<polyline points="69.0,692.6 70.1,693.7 71.2,694.9 72.3,696.1 73.4,697.2 74.5,698.3 75.6,699.3 76.7,700.3 77.8,701.3 78.9,702.2 80.0,703.1 81.1,703.9 82.2,704.7 83.4,705.3 84.5,705.9 85.6,706.4 86.7,706.9 87.8,707.2 88.9,707.5 90.0,707.6 91.1,707.7 92.2,707.6 93.3,707.4 94.4,707.1 95.5,706.7 96.6,706.1 97.7,705.5 98.8,704.7 99.9,703.8 101.0,702.8 102.1,701.6 103.2,700.3 104.3,698.9 105.4,697.4 106.5,695.7 107.6,693.9 108.8,691.9 109.9,689.9 111.0,687.6 112.1,685.3 113.2,682.8 114.3,680.1 115.4,677.4 116.5,674.5 117.6,671.4 118.7,668.3 119.8,664.9 120.9,661.5 122.0,657.9 123.1,654.2 124.2,650.4 125.3,646.5 126.4,642.6 127.5,638.6 128.6,634.5 129.7,630.5 130.8,626.4 131.9,622.3 133.0,618.3 134.1,614.3 135.2,610.3 136.4,606.3 137.5,602.4 138.6,598.4 139.7,594.4 140.8,590.5 141.9,586.5 143.0,582.4 144.1,578.4 145.2,574.3 146.3,570.2 147.4,566.0 148.5,561.8 149.6,557.6 150.7,553.4 151.8,549.1 152.9,544.9 154.0,540.8 155.1,536.6 156.2,532.5 157.3,528.4 158.4,524.4 159.5,520.5 160.6,516.7 161.8,513.0 162.9,509.5 164.0,506.3 165.1,503.2 166.2,500.4 167.3,497.9 168.4,495.7 169.5,493.8 170.6,492.1 171.7,490.8 172.8,489.6 173.9,488.7 175.0,488.0 176.1,487.4 177.2,487.1 178.3,486.9 179.4,486.8 180.5,486.9 181.6,487.1 182.7,487.4 183.8,488.0 184.9,488.7 186.0,489.6 187.1,490.8 188.2,492.1 189.4,493.8 190.5,495.7 191.6,497.9 192.7,500.4 193.8,503.2 194.9,506.3 196.0,509.5 197.1,513.0 198.2,516.7 199.3,520.5 200.4,524.4 201.5,528.4 202.6,532.5 203.7,536.6 204.8,540.8 205.9,544.9 207.0,549.1 208.1,553.4 209.2,557.6 210.3,561.8 211.4,566.0 212.5,570.2 213.6,574.3 214.8,578.4 215.9,582.4 217.0,586.5 218.1,590.5 219.2,594.4 220.3,598.4 221.4,602.4 222.5,606.3 223.6,610.3 224.7,614.3 225.8,618.3 226.9,622.3 228.0,626.4 229.1,630.5 230.2,634.5 231.3,638.6 232.4,642.6 233.5,646.5 234.6,650.4 235.7,654.2 236.8,657.9 237.9,661.5 239.0,664.9 240.1,668.3 241.2,671.4 242.4,674.5 243.5,677.4 244.6,680.1 245.7,682.8 246.8,685.3 247.9,687.6 249.0,689.9 250.1,691.9 251.2,693.9 252.3,695.7 253.4,697.4 254.5,698.9 255.6,700.3 256.7,701.6 257.8,702.8 258.9,703.8 260.0,704.7 261.1,705.5 262.2,706.1 263.3,706.7 264.4,707.1 265.5,707.4 266.6,707.6 267.8,707.7 268.9,707.6 270.0,707.5 271.1,707.2 272.2,706.9 273.3,706.4 274.4,705.9 275.5,705.3 276.6,704.7 277.7,703.9 278.8,703.1 279.9,702.2 281.0,701.3 282.1,700.3 283.2,699.3 284.3,698.3 285.4,697.2 286.5,696.1 287.6,694.9 288.7,693.7 289.8,692.6 290.9,691.4 292.0,690.2 293.1,689.1 294.2,688.0 295.4,687.0 296.5,686.0 297.6,685.2 298.7,684.5 299.8,683.9 300.9,683.4 302.0,683.1 303.1,683.0 304.2,683.0 305.3,683.3 306.4,683.8 307.5,684.5 308.6,685.4 309.7,686.4 310.8,687.7 311.9,689.1 313.0,690.6 314.1,692.3 315.2,694.1 316.3,696.0 317.4,698.0 318.5,700.2 319.6,702.4 320.8,704.6 321.9,707.0 323.0,709.4 324.1,711.9 325.2,714.5 326.3,717.2 327.4,719.9 328.5,722.7 329.6,725.5 330.7,728.5 331.8,731.5 332.9,734.5 334.0,737.7 335.1,740.8 336.2,744.1 337.3,747.4 338.4,750.7 339.5,754.0 340.6,757.3 341.7,760.5 342.8,763.8 343.9,766.9 345.0,770.0 346.1,773.0 347.2,775.9 348.4,778.6 349.5,781.2 350.6,783.7 351.7,785.9 352.8,788.1 353.9,790.0 355.0,791.8 356.1,793.4 357.2,794.9 358.3,796.2 359.4,797.3 360.5,798.2 361.6,799.0 362.7,799.5 363.8,799.9 364.9,800.2 366.0,800.2 367.1,800.1 368.2,799.8 369.3,799.4 370.4,798.9 371.5,798.3 372.6,797.6 373.8,796.8 374.9,795.9 376.0,794.9 377.1,793.9 378.2,792.7 379.3,791.3 380.4,789.7 381.5,787.9 382.6,785.8 383.7,783.4 384.8,780.6 385.9,777.4 387.0,773.9 388.1,770.0 389.2,765.8 390.3,761.3 391.4,756.7 392.5,751.8 393.6,746.9 394.7,741.9 395.8,736.9 396.9,732.0 398.0,727.0 399.1,721.9 400.2,716.8 401.4,711.6 402.5,706.1 403.6,700.5 404.7,694.7 405.8,688.6 406.9,682.3 408.0,675.8 409.1,669.2 410.2,662.5 411.3,655.8 412.4,649.1 413.5,642.5 414.6,636.1 415.7,629.7 416.8,623.5 417.9,617.4 419.0,611.5 420.1,605.8 421.2,600.3 422.3,594.9 423.4,589.8 424.5,584.8 425.6,580.0 426.8,575.3 427.9,570.8 429.0,566.5 430.1,562.3 431.2,558.3 432.3,554.5 433.4,550.8 434.5,547.3 435.6,544.0 436.7,540.8 437.8,537.9 438.9,535.4 440.0,533.1 441.1,531.3 442.2,529.9 443.3,529.1 444.4,528.8 445.5,529.1 446.6,529.9 447.7,531.3 448.8,533.1 449.9,535.4 451.0,537.9 452.1,540.8 453.2,544.0 454.4,547.3 455.5,550.8 456.6,554.5 457.7,558.3 458.8,562.3 459.9,566.5 461.0,570.8 462.1,575.3 463.2,580.0 464.3,584.8 465.4,589.8 466.5,594.9 467.6,600.3 468.7,605.8 469.8,611.5 470.9,617.4 472.0,623.5 473.1,629.7 474.2,636.1 475.3,642.5 476.4,649.1 477.5,655.8 478.6,662.5 479.8,669.2 480.9,675.8 482.0,682.3 483.1,688.6 484.2,694.7 485.3,700.5 486.4,706.1 487.5,711.6 488.6,716.8 489.7,721.9 490.8,727.0 491.9,732.0 493.0,736.9 494.1,741.9 495.2,746.9 496.3,751.8 497.4,756.7 498.5,761.3 499.6,765.8 500.7,770.0 501.8,773.9 502.9,777.4 504.0,780.6 505.1,783.4 506.3,785.8 507.4,787.9 508.5,789.7 509.6,791.3 510.7,792.7 511.8,793.9 512.9,794.9 514.0,795.9 515.1,796.8 516.2,797.6 517.3,798.3 518.4,798.9 519.5,799.4 520.6,799.8 521.7,800.1 522.8,800.2 523.9,800.2 525.0,799.9 526.1,799.5 527.2,799.0 528.3,798.2 529.4,797.3 530.5,796.2 531.6,794.9 532.8,793.4 533.9,791.8 535.0,790.0 536.1,788.1 537.2,785.9 538.3,783.7 539.4,781.2 540.5,778.6 541.6,775.9 542.7,773.0 543.8,770.0 544.9,766.9 546.0,763.8 547.1,760.5 548.2,757.3 549.3,754.0 550.4,750.7 551.5,747.4 552.6,744.1 553.7,740.8 554.8,737.7 555.9,734.5 557.0,731.5 558.1,728.5 559.2,725.5 560.4,722.7 561.5,719.9 562.6,717.2 563.7,714.5 564.8,711.9 565.9,709.4 567.0,707.0 568.1,704.6 569.2,702.4 570.3,700.2 571.4,698.0 572.5,696.0 573.6,694.1 574.7,692.3 575.8,690.6 576.9,689.1 578.0,687.7 579.1,686.4 580.2,685.4 581.3,684.5 582.4,683.8 583.5,683.3 584.6,683.0 585.8,683.0 586.9,683.1 588.0,683.4 589.1,683.9 590.2,684.5 591.3,685.2 592.4,686.0 593.5,687.0 594.6,688.0 595.7,689.1 596.8,690.2 597.9,691.4 599.0,692.6 600.1,693.7 601.2,694.9 602.3,696.1 603.4,697.2 604.5,698.3 605.6,699.3 606.7,700.3 607.8,701.3 608.9,702.2 610.0,703.1 611.1,703.9 612.2,704.7 613.4,705.3 614.5,705.9 615.6,706.4 616.7,706.9 617.8,707.2 618.9,707.5 620.0,707.6 621.1,707.7 622.2,707.6 623.3,707.4 624.4,707.1 625.5,706.7 626.6,706.1 627.7,705.5 628.8,704.7 629.9,703.8 631.0,702.8 632.1,701.6 633.2,700.3 634.3,698.9 635.4,697.4 636.5,695.7 637.6,693.9 638.8,691.9 639.9,689.9 641.0,687.6 642.1,685.3 643.2,682.8 644.3,680.1 645.4,677.4 646.5,674.5 647.6,671.4 648.7,668.3 649.8,664.9 650.9,661.5 652.0,657.9 653.1,654.2 654.2,650.4 655.3,646.5 656.4,642.6 657.5,638.6 658.6,634.5 659.7,630.5 660.8,626.4 661.9,622.3 663.0,618.3 664.1,614.3 665.2,610.3 666.4,606.3 667.5,602.4 668.6,598.4 669.7,594.4 670.8,590.5 671.9,586.5 673.0,582.4 674.1,578.4 675.2,574.3 676.3,570.2 677.4,566.0 678.5,561.8 679.6,557.6 680.7,553.4 681.8,549.1 682.9,544.9 684.0,540.8 685.1,536.6 686.2,532.5 687.3,528.4 688.4,524.4 689.5,520.5 690.6,516.7 691.8,513.0 692.9,509.5 694.0,506.3 695.1,503.2 696.2,500.4 697.3,497.9 698.4,495.7 699.5,493.8 700.6,492.1 701.7,490.8 702.8,489.6 703.9,488.7 705.0,488.0 706.1,487.4 707.2,487.1 708.3,486.9 709.4,486.8 710.5,486.9 711.6,487.1 712.7,487.4 713.8,488.0 714.9,488.7 716.0,489.6 717.1,490.8 718.2,492.1 719.4,493.8 720.5,495.7 721.6,497.9 722.7,500.4 723.8,503.2 724.9,506.3 726.0,509.5 727.1,513.0 728.2,516.7 729.3,520.5 730.4,524.4 731.5,528.4 732.6,532.5 733.7,536.6 734.8,540.8 735.9,544.9 737.0,549.1 738.1,553.4 739.2,557.6 740.3,561.8 741.4,566.0 742.5,570.2 743.6,574.3 744.8,578.4 745.9,582.4 747.0,586.5 748.1,590.5 749.2,594.4 750.3,598.4 751.4,602.4 752.5,606.3 753.6,610.3 754.7,614.3 755.8,618.3 756.9,622.3 758.0,626.4 759.1,630.5 760.2,634.5 761.3,638.6 762.4,642.6 763.5,646.5 764.6,650.4 765.7,654.2 766.8,657.9 767.9,661.5 769.0,664.9 770.1,668.3 771.2,671.4 772.4,674.5 773.5,677.4 774.6,680.1 775.7,682.8 776.8,685.3 777.9,687.6 779.0,689.9 780.1,691.9 781.2,693.9 782.3,695.7 783.4,697.4 784.5,698.9 785.6,700.3 786.7,701.6 787.8,702.8 788.9,703.8 790.0,704.7 791.1,705.5 792.2,706.1 793.3,706.7 794.4,707.1 795.5,707.4 796.6,707.6 797.8,707.7 798.9,707.6 800.0,707.5 801.1,707.2 802.2,706.9 803.3,706.4 804.4,705.9 805.5,705.3 806.6,704.7 807.7,703.9 808.8,703.1 809.9,702.2 811.0,701.3 812.1,700.3 813.2,699.3 814.3,698.3 815.4,697.2 816.5,696.1 817.6,694.9 818.7,693.7 819.8,692.6 820.9,691.4 822.0,690.2 823.1,689.1 824.2,688.0 825.4,687.0 826.5,686.0 827.6,685.2 828.7,684.5 829.8,683.9 830.9,683.4 832.0,683.1 833.1,683.0 834.2,683.0 835.3,683.3 836.4,683.8 837.5,684.5 838.6,685.4 839.7,686.4 840.8,687.7 841.9,689.1 843.0,690.6 844.1,692.3 845.2,694.1 846.3,696.0 847.4,698.0 848.5,700.2 849.6,702.4 850.8,704.6 851.9,707.0 853.0,709.4 854.1,711.9 855.2,714.5 856.3,717.2 857.4,719.9 858.5,722.7 859.6,725.5 860.7,728.5 861.8,731.5 862.9,734.5 864.0,737.7" fill="none" stroke="#64a517" stroke-width="2.7" stroke-linejoin="round"/>
</g>
<rect x="69" y="455.5" width="795" height="344.5" fill="none" stroke="#000" stroke-width="1.8"/>
<line x1="179.4" y1="800" x2="179.4" y2="794.5" stroke="#000" stroke-width="1.6"/>
<line x1="179.4" y1="455.5" x2="179.4" y2="461.0" stroke="#000" stroke-width="1.6"/>
<text x="179.4" y="831.7" text-anchor="middle" font-family="'Liberation Sans', Arial, sans-serif" font-size="32">-60</text>
<line x1="311.9" y1="800" x2="311.9" y2="794.5" stroke="#000" stroke-width="1.6"/>
<line x1="311.9" y1="455.5" x2="311.9" y2="461.0" stroke="#000" stroke-width="1.6"/>
<text x="311.9" y="831.7" text-anchor="middle" font-family="'Liberation Sans', Arial, sans-serif" font-size="32">-30</text>
<line x1="444.4" y1="800" x2="444.4" y2="794.5" stroke="#000" stroke-width="1.6"/>
<line x1="444.4" y1="455.5" x2="444.4" y2="461.0" stroke="#000" stroke-width="1.6"/>
<text x="444.4" y="831.7" text-anchor="middle" font-family="'Liberation Sans', Arial, sans-serif" font-size="32">0</text>
<line x1="576.9" y1="800" x2="576.9" y2="794.5" stroke="#000" stroke-width="1.6"/>
<line x1="576.9" y1="455.5" x2="576.9" y2="461.0" stroke="#000" stroke-width="1.6"/>
<text x="576.9" y="831.7" text-anchor="middle" font-family="'Liberation Sans', Arial, sans-serif" font-size="32">30</text>
<line x1="709.4" y1="800" x2="709.4" y2="794.5" stroke="#000" stroke-width="1.6"/>
<line x1="709.4" y1="455.5" x2="709.4" y2="461.0" stroke="#000" stroke-width="1.6"/>
<text x="709.4" y="831.7" text-anchor="middle" font-family="'Liberation Sans', Arial, sans-serif" font-size="32">60</text>
<line x1="841.9" y1="800" x2="841.9" y2="794.5" stroke="#000" stroke-width="1.6"/>
<line x1="841.9" y1="455.5" x2="841.9" y2="461.0" stroke="#000" stroke-width="1.6"/>
<text x="841.9" y="831.7" text-anchor="middle" font-family="'Liberation Sans', Arial, sans-serif" font-size="32">90</text>
<line x1="69" y1="643.4" x2="74.5" y2="643.4" stroke="#000" stroke-width="1.6"/>
<line x1="864" y1="643.4" x2="858.5" y2="643.4" stroke="#000" stroke-width="1.6"/>
<line x1="69" y1="486.8" x2="74.5" y2="486.8" stroke="#000" stroke-width="1.6"/>
<line x1="864" y1="486.8" x2="858.5" y2="486.8" stroke="#000" stroke-width="1.6"/>
<text x="440.4" y="858.9" font-family="'Liberation Serif', 'Times New Roman', serif" font-size="31" font-style="italic">ϕ</text>
<text x="461.1" y="858.9" font-family="'Liberation Serif', 'Times New Roman', serif" font-size="31">(°)</text>
<line x1="500.8" y1="488.5" x2="534.9" y2="488.5" stroke="#808080" stroke-width="2.6"/>
<circle cx="517.9" cy="488.5" r="4.1" fill="#808080"/>
<line x1="500.8" y1="530.4" x2="534.9" y2="530.4" stroke="#64a517" stroke-width="2.8"/>
<text x="559.8" y="499.2" font-family="'Liberation Sans', Arial, sans-serif" font-size="31">exp</text>
<text x="559.8" y="541.6" font-family="'Liberation Sans', Arial, sans-serif" font-size="31">sim <tspan font-style="italic">R</tspan></text>
<text x="640.6" y="528.4" font-family="'Liberation Sans', Arial, sans-serif" font-size="21" font-style="italic">X</text>
<text x="638.9" y="549.3" font-family="'Liberation Sans', Arial, sans-serif" font-size="20" font-style="italic">h</text>
<text font-size="32" fill="#000" font-family="'Liberation Sans', Arial, sans-serif"><tspan x="80.0" y="501.8" font-family="'Liberation Serif', 'Times New Roman', serif" font-style="italic" font-size="34">θ</tspan><tspan x="106.0" y="501.8">=</tspan><tspan x="128.8" y="501.8">22°</tspan></text>
<clipPath id="cd"><rect x="929" y="452.7" width="792" height="347.90000000000003"/></clipPath>
<g clip-path="url(#cd)">
<polyline points="929.0,784.8 951.0,792.7 973.0,737.6 995.0,719.7 1017.0,767.3 1039.0,775.1 1061.0,775.1 1083.0,744.8 1105.0,723.8 1127.0,770.1 1149.0,773.9 1171.0,753.2 1193.0,732.0 1215.0,736.0 1237.0,748.2 1259.0,797.7 1281.0,780.8 1303.0,665.3 1325.0,586.1 1347.0,536.1 1369.0,485.7 1391.0,578.9 1413.0,602.7 1435.0,741.0 1457.0,784.8 1479.0,774.2 1501.0,750.4 1523.0,747.0 1545.0,757.0 1567.0,768.9 1589.0,775.8 1611.0,769.5 1633.0,760.7 1655.0,776.4 1677.0,792.0 1699.0,770.4 1721.0,728.5" fill="none" stroke="#808080" stroke-width="2.6" stroke-linejoin="round"/>
<circle cx="929.0" cy="784.8" r="4" fill="#808080"/>
<circle cx="951.0" cy="792.7" r="4" fill="#808080"/>
<circle cx="973.0" cy="737.6" r="4" fill="#808080"/>
<circle cx="995.0" cy="719.7" r="4" fill="#808080"/>
<circle cx="1017.0" cy="767.3" r="4" fill="#808080"/>
<circle cx="1039.0" cy="775.1" r="4" fill="#808080"/>
<circle cx="1061.0" cy="775.1" r="4" fill="#808080"/>
<circle cx="1083.0" cy="744.8" r="4" fill="#808080"/>
<circle cx="1105.0" cy="723.8" r="4" fill="#808080"/>
<circle cx="1127.0" cy="770.1" r="4" fill="#808080"/>
<circle cx="1149.0" cy="773.9" r="4" fill="#808080"/>
<circle cx="1171.0" cy="753.2" r="4" fill="#808080"/>
<circle cx="1193.0" cy="732.0" r="4" fill="#808080"/>
<circle cx="1215.0" cy="736.0" r="4" fill="#808080"/>
<circle cx="1237.0" cy="748.2" r="4" fill="#808080"/>
<circle cx="1259.0" cy="797.7" r="4" fill="#808080"/>
<circle cx="1281.0" cy="780.8" r="4" fill="#808080"/>
<circle cx="1303.0" cy="665.3" r="4" fill="#808080"/>
<circle cx="1325.0" cy="586.1" r="4" fill="#808080"/>
<circle cx="1347.0" cy="536.1" r="4" fill="#808080"/>
<circle cx="1369.0" cy="485.7" r="4" fill="#808080"/>
<circle cx="1391.0" cy="578.9" r="4" fill="#808080"/>
<circle cx="1413.0" cy="602.7" r="4" fill="#808080"/>
<circle cx="1435.0" cy="741.0" r="4" fill="#808080"/>
<circle cx="1457.0" cy="784.8" r="4" fill="#808080"/>
<circle cx="1479.0" cy="774.2" r="4" fill="#808080"/>
<circle cx="1501.0" cy="750.4" r="4" fill="#808080"/>
<circle cx="1523.0" cy="747.0" r="4" fill="#808080"/>
<circle cx="1545.0" cy="757.0" r="4" fill="#808080"/>
<circle cx="1567.0" cy="768.9" r="4" fill="#808080"/>
<circle cx="1589.0" cy="775.8" r="4" fill="#808080"/>
<circle cx="1611.0" cy="769.5" r="4" fill="#808080"/>
<circle cx="1633.0" cy="760.7" r="4" fill="#808080"/>
<circle cx="1655.0" cy="776.4" r="4" fill="#808080"/>
<circle cx="1677.0" cy="792.0" r="4" fill="#808080"/>
<circle cx="1699.0" cy="770.4" r="4" fill="#808080"/>
<circle cx="1721.0" cy="728.5" r="4" fill="#808080"/>
<polyline points="929.0,749.6 930.1,751.5 931.2,753.4 932.3,755.3 933.4,757.3 934.5,759.3 935.6,761.2 936.7,763.1 937.8,765.0 938.9,766.9 940.0,768.7 941.1,770.5 942.2,772.2 943.3,773.8 944.4,775.4 945.5,776.9 946.6,778.3 947.7,779.5 948.8,780.7 949.9,781.8 951.0,782.9 952.1,783.9 953.2,784.8 954.3,785.7 955.4,786.7 956.5,787.6 957.6,788.5 958.7,789.4 959.8,790.4 960.9,791.3 962.0,792.2 963.1,793.1 964.2,793.9 965.3,794.6 966.4,795.1 967.5,795.5 968.6,795.8 969.7,795.8 970.8,795.7 971.9,795.5 973.0,795.1 974.1,794.7 975.2,794.2 976.3,793.6 977.4,792.9 978.5,792.2 979.6,791.5 980.7,790.7 981.8,790.0 982.9,789.2 984.0,788.4 985.1,787.6 986.2,786.8 987.3,786.0 988.4,785.2 989.5,784.4 990.6,783.6 991.7,782.8 992.8,782.1 993.9,781.3 995.0,780.6 996.1,779.9 997.2,779.3 998.3,778.7 999.4,778.1 1000.5,777.5 1001.6,777.0 1002.7,776.5 1003.8,776.1 1004.9,775.7 1006.0,775.3 1007.1,775.0 1008.2,774.8 1009.3,774.6 1010.4,774.5 1011.5,774.4 1012.6,774.4 1013.7,774.4 1014.8,774.6 1015.9,774.7 1017.0,775.0 1018.1,775.3 1019.2,775.7 1020.3,776.1 1021.4,776.6 1022.5,777.1 1023.6,777.7 1024.7,778.3 1025.8,778.9 1026.9,779.6 1028.0,780.4 1029.1,781.1 1030.2,781.9 1031.3,782.8 1032.4,783.6 1033.5,784.5 1034.6,785.4 1035.7,786.3 1036.8,787.2 1037.9,788.1 1039.0,789.0 1040.1,790.0 1041.2,790.9 1042.3,791.7 1043.4,792.6 1044.5,793.4 1045.6,794.2 1046.7,795.0 1047.8,795.7 1048.9,796.3 1050.0,796.9 1051.1,797.4 1052.2,797.8 1053.3,798.1 1054.4,798.4 1055.5,798.6 1056.6,798.6 1057.7,798.6 1058.8,798.4 1059.9,798.2 1061.0,797.8 1062.1,797.4 1063.2,796.9 1064.3,796.3 1065.4,795.7 1066.5,794.9 1067.6,794.2 1068.7,793.3 1069.8,792.4 1070.9,791.5 1072.0,790.5 1073.1,789.5 1074.2,788.4 1075.3,787.3 1076.4,786.2 1077.5,785.0 1078.6,783.9 1079.7,782.7 1080.8,781.5 1081.9,780.4 1083.0,779.2 1084.1,778.0 1085.2,776.9 1086.3,775.8 1087.4,774.7 1088.5,773.6 1089.6,772.6 1090.7,771.6 1091.8,770.7 1092.9,769.8 1094.0,769.0 1095.1,768.2 1096.2,767.6 1097.3,767.0 1098.4,766.5 1099.5,766.1 1100.6,765.8 1101.7,765.5 1102.8,765.4 1103.9,765.5 1105.0,765.6 1106.1,765.8 1107.2,766.1 1108.3,766.6 1109.4,767.1 1110.5,767.7 1111.6,768.4 1112.7,769.1 1113.8,770.0 1114.9,770.8 1116.0,771.8 1117.1,772.8 1118.2,773.8 1119.3,774.9 1120.4,776.0 1121.5,777.1 1122.6,778.3 1123.7,779.4 1124.8,780.6 1125.9,781.8 1127.0,783.0 1128.1,784.1 1129.2,785.3 1130.3,786.4 1131.4,787.5 1132.5,788.6 1133.6,789.7 1134.7,790.7 1135.8,791.7 1136.9,792.6 1138.0,793.5 1139.1,794.3 1140.2,795.1 1141.3,795.8 1142.4,796.4 1143.5,797.0 1144.6,797.5 1145.7,797.9 1146.8,798.2 1147.9,798.4 1149.0,798.6 1150.1,798.6 1151.2,798.5 1152.3,798.4 1153.4,798.1 1154.5,797.7 1155.6,797.3 1156.7,796.8 1157.8,796.2 1158.9,795.5 1160.0,794.8 1161.1,794.1 1162.2,793.3 1163.3,792.4 1164.4,791.6 1165.5,790.7 1166.6,789.8 1167.7,788.8 1168.8,787.9 1169.9,787.0 1171.0,786.1 1172.1,785.2 1173.2,784.3 1174.3,783.4 1175.4,782.6 1176.5,781.8 1177.6,781.0 1178.7,780.2 1179.8,779.5 1180.9,778.8 1182.0,778.2 1183.1,777.5 1184.2,777.0 1185.3,776.5 1186.4,776.0 1187.5,775.6 1188.6,775.2 1189.7,774.9 1190.8,774.7 1191.9,774.5 1193.0,774.4 1194.1,774.4 1195.2,774.4 1196.3,774.5 1197.4,774.6 1198.5,774.8 1199.6,775.1 1200.7,775.4 1201.8,775.8 1202.9,776.2 1204.0,776.6 1205.1,777.1 1206.2,777.6 1207.3,778.2 1208.4,778.8 1209.5,779.4 1210.6,780.1 1211.7,780.8 1212.8,781.5 1213.9,782.2 1215.0,783.0 1216.1,783.7 1217.2,784.5 1218.3,785.3 1219.4,786.1 1220.5,786.9 1221.6,787.7 1222.7,788.5 1223.8,789.3 1224.9,790.1 1226.0,790.9 1227.1,791.6 1228.2,792.3 1229.3,793.0 1230.4,793.7 1231.5,794.3 1232.6,794.8 1233.7,795.2 1234.8,795.5 1235.9,795.7 1237.0,795.8 1238.1,795.7 1239.2,795.5 1240.3,795.0 1241.4,794.5 1242.5,793.8 1243.6,792.9 1244.7,792.1 1245.8,791.1 1246.9,790.2 1248.0,789.2 1249.1,788.3 1250.2,787.4 1251.3,786.5 1252.4,785.6 1253.5,784.6 1254.6,783.7 1255.7,782.7 1256.8,781.6 1257.9,780.5 1259.0,779.3 1260.1,778.0 1261.2,776.6 1262.3,775.1 1263.4,773.5 1264.5,771.9 1265.6,770.1 1266.7,768.4 1267.8,766.5 1268.9,764.7 1270.0,762.8 1271.1,760.8 1272.2,758.9 1273.3,756.9 1274.4,755.0 1275.5,753.0 1276.6,751.1 1277.7,749.3 1278.8,747.5 1279.9,745.7 1281.0,744.1 1282.1,742.5 1283.2,741.0 1284.3,739.7 1285.4,738.4 1286.5,737.3 1287.6,736.3 1288.7,735.4 1289.8,734.6 1290.9,733.9 1292.0,733.3 1293.1,732.8 1294.2,732.4 1295.3,732.0 1296.4,731.7 1297.5,731.5 1298.6,731.2 1299.7,730.8 1300.8,730.5 1301.9,730.0 1303.0,729.4 1304.1,728.7 1305.2,727.8 1306.3,726.8 1307.4,725.6 1308.5,724.2 1309.6,722.6 1310.7,720.8 1311.8,718.9 1312.9,716.8 1314.0,714.5 1315.1,712.0 1316.2,709.3 1317.3,706.4 1318.4,703.3 1319.5,700.0 1320.6,696.4 1321.7,692.5 1322.8,688.3 1323.9,683.9 1325.0,679.2 1326.1,674.4 1327.2,669.3 1328.3,664.2 1329.4,658.9 1330.5,653.6 1331.6,648.3 1332.7,642.9 1333.8,637.5 1334.9,632.0 1336.0,626.5 1337.1,620.9 1338.2,615.2 1339.3,609.5 1340.4,603.6 1341.5,597.7 1342.6,591.6 1343.7,585.6 1344.8,579.5 1345.9,573.3 1347.0,567.1 1348.1,560.9 1349.2,554.8 1350.3,548.7 1351.4,542.7 1352.5,536.8 1353.6,531.1 1354.7,525.6 1355.8,520.4 1356.9,515.4 1358.0,510.7 1359.1,506.3 1360.2,502.4 1361.3,498.8 1362.4,495.6 1363.5,492.9 1364.6,490.7 1365.7,488.9 1366.8,487.7 1367.9,486.9 1369.0,486.6 1370.1,486.9 1371.2,487.7 1372.3,488.9 1373.4,490.7 1374.5,492.9 1375.6,495.6 1376.7,498.8 1377.8,502.4 1378.9,506.3 1380.0,510.7 1381.1,515.4 1382.2,520.4 1383.3,525.6 1384.4,531.1 1385.5,536.8 1386.6,542.7 1387.7,548.7 1388.8,554.8 1389.9,560.9 1391.0,567.1 1392.1,573.3 1393.2,579.5 1394.3,585.6 1395.4,591.6 1396.5,597.7 1397.6,603.6 1398.7,609.5 1399.8,615.2 1400.9,620.9 1402.0,626.5 1403.1,632.0 1404.2,637.5 1405.3,642.9 1406.4,648.3 1407.5,653.6 1408.6,658.9 1409.7,664.2 1410.8,669.3 1411.9,674.4 1413.0,679.2 1414.1,683.9 1415.2,688.3 1416.3,692.5 1417.4,696.4 1418.5,700.0 1419.6,703.3 1420.7,706.4 1421.8,709.3 1422.9,712.0 1424.0,714.5 1425.1,716.8 1426.2,718.9 1427.3,720.8 1428.4,722.6 1429.5,724.2 1430.6,725.6 1431.7,726.8 1432.8,727.8 1433.9,728.7 1435.0,729.4 1436.1,730.0 1437.2,730.5 1438.3,730.8 1439.4,731.2 1440.5,731.5 1441.6,731.7 1442.7,732.0 1443.8,732.4 1444.9,732.8 1446.0,733.3 1447.1,733.9 1448.2,734.6 1449.3,735.4 1450.4,736.3 1451.5,737.3 1452.6,738.4 1453.7,739.7 1454.8,741.0 1455.9,742.5 1457.0,744.1 1458.1,745.7 1459.2,747.5 1460.3,749.3 1461.4,751.1 1462.5,753.0 1463.6,755.0 1464.7,756.9 1465.8,758.9 1466.9,760.8 1468.0,762.8 1469.1,764.7 1470.2,766.5 1471.3,768.4 1472.4,770.1 1473.5,771.9 1474.6,773.5 1475.7,775.1 1476.8,776.6 1477.9,778.0 1479.0,779.3 1480.1,780.5 1481.2,781.6 1482.3,782.7 1483.4,783.7 1484.5,784.6 1485.6,785.6 1486.7,786.5 1487.8,787.4 1488.9,788.3 1490.0,789.2 1491.1,790.2 1492.2,791.1 1493.3,792.1 1494.4,792.9 1495.5,793.8 1496.6,794.5 1497.7,795.0 1498.8,795.5 1499.9,795.7 1501.0,795.8 1502.1,795.7 1503.2,795.5 1504.3,795.2 1505.4,794.8 1506.5,794.3 1507.6,793.7 1508.7,793.0 1509.8,792.3 1510.9,791.6 1512.0,790.9 1513.1,790.1 1514.2,789.3 1515.3,788.5 1516.4,787.7 1517.5,786.9 1518.6,786.1 1519.7,785.3 1520.8,784.5 1521.9,783.7 1523.0,783.0 1524.1,782.2 1525.2,781.5 1526.3,780.8 1527.4,780.1 1528.5,779.4 1529.6,778.8 1530.7,778.2 1531.8,777.6 1532.9,777.1 1534.0,776.6 1535.1,776.2 1536.2,775.8 1537.3,775.4 1538.4,775.1 1539.5,774.8 1540.6,774.6 1541.7,774.5 1542.8,774.4 1543.9,774.4 1545.0,774.4 1546.1,774.5 1547.2,774.7 1548.3,774.9 1549.4,775.2 1550.5,775.6 1551.6,776.0 1552.7,776.5 1553.8,777.0 1554.9,777.5 1556.0,778.2 1557.1,778.8 1558.2,779.5 1559.3,780.2 1560.4,781.0 1561.5,781.8 1562.6,782.6 1563.7,783.4 1564.8,784.3 1565.9,785.2 1567.0,786.1 1568.1,787.0 1569.2,787.9 1570.3,788.8 1571.4,789.8 1572.5,790.7 1573.6,791.6 1574.7,792.4 1575.8,793.3 1576.9,794.1 1578.0,794.8 1579.1,795.5 1580.2,796.2 1581.3,796.8 1582.4,797.3 1583.5,797.7 1584.6,798.1 1585.7,798.4 1586.8,798.5 1587.9,798.6 1589.0,798.6 1590.1,798.4 1591.2,798.2 1592.3,797.9 1593.4,797.5 1594.5,797.0 1595.6,796.4 1596.7,795.8 1597.8,795.1 1598.9,794.3 1600.0,793.5 1601.1,792.6 1602.2,791.7 1603.3,790.7 1604.4,789.7 1605.5,788.6 1606.6,787.5 1607.7,786.4 1608.8,785.3 1609.9,784.1 1611.0,783.0 1612.1,781.8 1613.2,780.6 1614.3,779.4 1615.4,778.3 1616.5,777.1 1617.6,776.0 1618.7,774.9 1619.8,773.8 1620.9,772.8 1622.0,771.8 1623.1,770.8 1624.2,770.0 1625.3,769.1 1626.4,768.4 1627.5,767.7 1628.6,767.1 1629.7,766.6 1630.8,766.1 1631.9,765.8 1633.0,765.6 1634.1,765.5 1635.2,765.4 1636.3,765.5 1637.4,765.8 1638.5,766.1 1639.6,766.5 1640.7,767.0 1641.8,767.6 1642.9,768.2 1644.0,769.0 1645.1,769.8 1646.2,770.7 1647.3,771.6 1648.4,772.6 1649.5,773.6 1650.6,774.7 1651.7,775.8 1652.8,776.9 1653.9,778.0 1655.0,779.2 1656.1,780.4 1657.2,781.5 1658.3,782.7 1659.4,783.9 1660.5,785.0 1661.6,786.2 1662.7,787.3 1663.8,788.4 1664.9,789.5 1666.0,790.5 1667.1,791.5 1668.2,792.4 1669.3,793.3 1670.4,794.2 1671.5,794.9 1672.6,795.7 1673.7,796.3 1674.8,796.9 1675.9,797.4 1677.0,797.8 1678.1,798.2 1679.2,798.4 1680.3,798.6 1681.4,798.6 1682.5,798.6 1683.6,798.4 1684.7,798.1 1685.8,797.8 1686.9,797.4 1688.0,796.9 1689.1,796.3 1690.2,795.7 1691.3,795.0 1692.4,794.2 1693.5,793.4 1694.6,792.6 1695.7,791.7 1696.8,790.9 1697.9,790.0 1699.0,789.0 1700.1,788.1 1701.2,787.2 1702.3,786.3 1703.4,785.4 1704.5,784.5 1705.6,783.6 1706.7,782.8 1707.8,781.9 1708.9,781.1 1710.0,780.4 1711.1,779.6 1712.2,778.9 1713.3,778.3 1714.4,777.7 1715.5,777.1 1716.6,776.6 1717.7,776.1 1718.8,775.7 1719.9,775.3 1721.0,775.0" fill="none" stroke="#64a517" stroke-width="2.7" stroke-linejoin="round"/>
</g>
<rect x="929" y="454.7" width="792" height="343.90000000000003" fill="none" stroke="#000" stroke-width="1.8"/>
<line x1="973.0" y1="798.6" x2="973.0" y2="793.1" stroke="#000" stroke-width="1.6"/>
<line x1="973.0" y1="454.7" x2="973.0" y2="460.2" stroke="#000" stroke-width="1.6"/>
<text x="973.0" y="830.3" text-anchor="middle" font-family="'Liberation Sans', Arial, sans-serif" font-size="32">-90</text>
<line x1="1105.0" y1="798.6" x2="1105.0" y2="793.1" stroke="#000" stroke-width="1.6"/>
<line x1="1105.0" y1="454.7" x2="1105.0" y2="460.2" stroke="#000" stroke-width="1.6"/>
<text x="1105.0" y="830.3" text-anchor="middle" font-family="'Liberation Sans', Arial, sans-serif" font-size="32">-60</text>
<line x1="1237.0" y1="798.6" x2="1237.0" y2="793.1" stroke="#000" stroke-width="1.6"/>
<line x1="1237.0" y1="454.7" x2="1237.0" y2="460.2" stroke="#000" stroke-width="1.6"/>
<text x="1237.0" y="830.3" text-anchor="middle" font-family="'Liberation Sans', Arial, sans-serif" font-size="32">-30</text>
<line x1="1369.0" y1="798.6" x2="1369.0" y2="793.1" stroke="#000" stroke-width="1.6"/>
<line x1="1369.0" y1="454.7" x2="1369.0" y2="460.2" stroke="#000" stroke-width="1.6"/>
<text x="1369.0" y="830.3" text-anchor="middle" font-family="'Liberation Sans', Arial, sans-serif" font-size="32">0</text>
<line x1="1501.0" y1="798.6" x2="1501.0" y2="793.1" stroke="#000" stroke-width="1.6"/>
<line x1="1501.0" y1="454.7" x2="1501.0" y2="460.2" stroke="#000" stroke-width="1.6"/>
<text x="1501.0" y="830.3" text-anchor="middle" font-family="'Liberation Sans', Arial, sans-serif" font-size="32">30</text>
<line x1="1633.0" y1="798.6" x2="1633.0" y2="793.1" stroke="#000" stroke-width="1.6"/>
<line x1="1633.0" y1="454.7" x2="1633.0" y2="460.2" stroke="#000" stroke-width="1.6"/>
<text x="1633.0" y="830.3" text-anchor="middle" font-family="'Liberation Sans', Arial, sans-serif" font-size="32">60</text>
<line x1="929" y1="642.1" x2="934.5" y2="642.1" stroke="#000" stroke-width="1.6"/>
<line x1="1721" y1="642.1" x2="1715.5" y2="642.1" stroke="#000" stroke-width="1.6"/>
<line x1="929" y1="485.7" x2="934.5" y2="485.7" stroke="#000" stroke-width="1.6"/>
<line x1="1721" y1="485.7" x2="1715.5" y2="485.7" stroke="#000" stroke-width="1.6"/>
<text x="1295.9" y="857.9" font-family="'Liberation Serif', 'Times New Roman', serif" font-size="31" font-style="italic">ϕ</text>
<text x="1316.3" y="857.9" font-family="'Liberation Serif', 'Times New Roman', serif" font-size="31">(°)</text>
<line x1="1541.6" y1="490.9" x2="1575.4" y2="490.9" stroke="#808080" stroke-width="2.6"/>
<circle cx="1558.5" cy="490.9" r="4.1" fill="#808080"/>
<line x1="1541.6" y1="533.3" x2="1575.4" y2="533.3" stroke="#64a517" stroke-width="2.8"/>
<text x="1592.1" y="502.0" font-family="'Liberation Sans', Arial, sans-serif" font-size="31">exp</text>
<text x="1592.1" y="544.3" font-family="'Liberation Sans', Arial, sans-serif" font-size="31">sim <tspan font-style="italic">R</tspan></text>
<text x="1672.4" y="531.1" font-family="'Liberation Sans', Arial, sans-serif" font-size="21" font-style="italic">X</text>
<text x="1671.8" y="552.1" font-family="'Liberation Sans', Arial, sans-serif" font-size="20" font-style="italic">h</text>
<text font-size="32" fill="#000" font-family="'Liberation Sans', Arial, sans-serif"><tspan x="952.2" y="501.3" font-family="'Liberation Serif', 'Times New Roman', serif" font-style="italic" font-size="34">θ</tspan><tspan x="978.3" y="501.3">=</tspan><tspan x="1001.5" y="501.3">30°</tspan></text>
<text x="44.0" y="499.5" font-family="'Liberation Sans', Arial, sans-serif" font-size="32">1</text>
<text x="45.1" y="811.7" font-family="'Liberation Sans', Arial, sans-serif" font-size="32">0</text>
<text transform="translate(35.7,796) rotate(-90)" font-family="'Liberation Sans', Arial, sans-serif" font-size="31">Normalized intensity</text>
</svg></body></html>
